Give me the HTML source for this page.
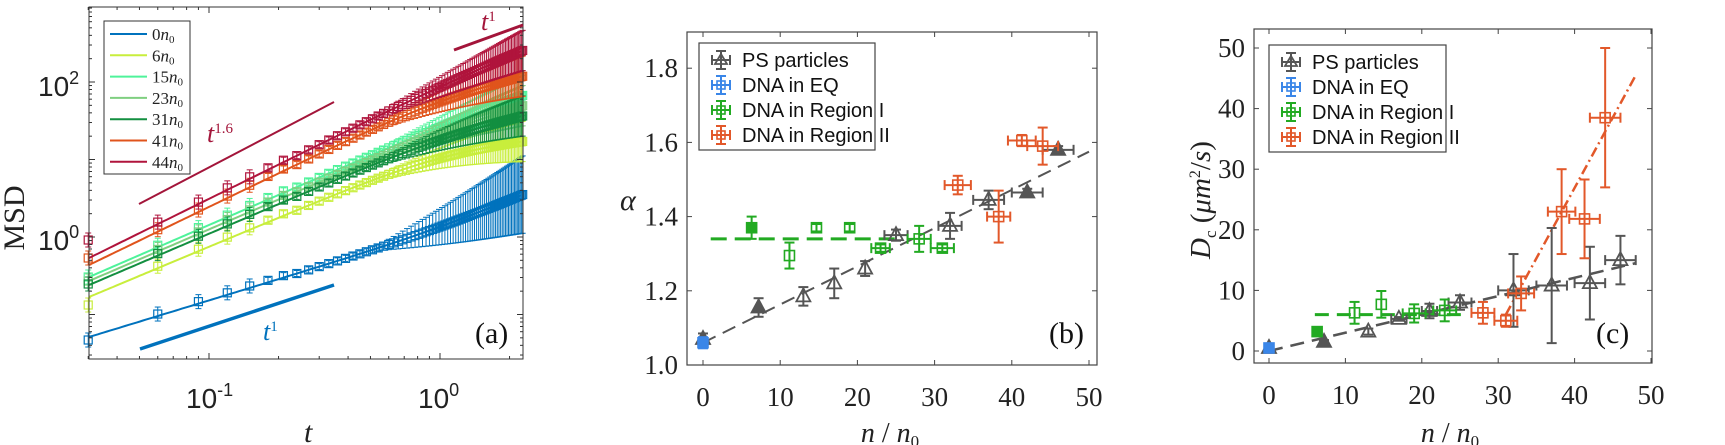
<!DOCTYPE html>
<html><head><meta charset="utf-8">
<style>
html,body{margin:0;padding:0;background:#fff;}
svg{display:block;}
.ser{font-family:"Liberation Serif",serif;}
.san{font-family:"Liberation Sans",sans-serif;}
</style></head>
<body>
<svg id="s" width="1725" height="445" xmlns="http://www.w3.org/2000/svg"></svg>
<script>
const S=document.getElementById('s');let h='';
function L(x1,y1,x2,y2,c,w,d){h+=`<line x1="${x1}" y1="${y1}" x2="${x2}" y2="${y2}" stroke="${c}" stroke-width="${w||1}" ${d?`stroke-dasharray="${d}"`:''}/>`;}
function T(x,y,t,sz,cls,extra){h+=`<text x="${x}" y="${y}" font-size="${sz}" class="${cls}" ${extra||''}>${t}</text>`;}
function R(x,y,w,hh,c,f,sw){h+=`<rect x="${x}" y="${y}" width="${w}" height="${hh}" fill="${f||'none'}" stroke="${c}" stroke-width="${sw||1}"/>`;}
// ===== Panel a =====
const X=t=>440+231*Math.log10(t);
const ser=[
 ['#0072BD',337,230,195,0.6],
 ['#c8ee3c',297,150,140,0.5],
 ['#4ef39a',277,125,95,0.5],
 ['#7fcf80',281,130,105,0.5],
 ['#138f40',285,135,115,0.5],
 ['#e0541c',265,95,75,0.4],
 ['#b0143c',258,85,50,0.4]];
const sq={'#0072BD':340,'#c8ee3c':305,'#4ef39a':277,'#7fcf80':281,'#138f40':284,'#e0541c':258,'#b0143c':240};
function yAt(s,x){
 const s1=(s[2]-s[1])/(440-89), s2=(s[3]-s[2])/(523-440);
 // smooth blend of two slopes around x=440
 const w=40;
 const f=u=>w*Math.log(1+Math.exp(u/w));
 const base=s[1]+s1*(x-89);
 return base+(s2-s1)*(f(x-440)-f(89-440)) - (s2-s1)*(f(0)-f(89-440))*0 ;
}
for(const s of ser){
 let pts=[];for(let x=89;x<=523;x+=3)pts.push(x+','+yAt(s,x).toFixed(1));
 h+=`<polyline points="${pts.join(' ')}" fill="none" stroke="${s[0]}" stroke-width="2"/>`;
 for(let k=1;k<=77;k++){const t=k*0.03,x=X(t);if(x>523)break;
  let y=k==1?sq[s[0]]:yAt(s,x)+(k<8?-2:0);
  let e=3+(x>380?(x-380)*(s[0]=='#0072BD'?0.25:0.12):0)+(k<6?4:0);
  L(x,y-e,x,y+e,s[0],1);L(x-3,y-e,x+3,y-e,s[0],1);L(x-3,y+e,x+3,y+e,s[0],1);
  R(x-4,y-4,8,8,s[0],'none',1.2);
 }
}
R(89,7,434,352,'#333','none',1);
[0.03,0.04,0.05,0.06,0.07,0.08,0.09,0.1,0.2,0.3,0.4,0.5,0.6,0.7,0.8,0.9,1,2].forEach(t=>{const x=X(t),l=(t==0.1||t==1)?6:3;L(x,359,x,359-l,'#333');L(x,7,x,7+l,'#333');});
for(let d=-3;d<=3;d++)for(let m=1;m<10;m++){const y=237-77.5*(d+Math.log10(m));if(y<7||y>359)continue;const l=m==1?6:3;L(89,y,89+l,y,'#333');L(523,y,523-l,y,'#333');}
L(139,204,334,102,'#a3153a',2);L(140,349,334,285,'#0072BD',3.5);L(454,50,523,25,'#a3153a',3);
T(207,142,'<tspan font-style="italic">t</tspan><tspan dy="-9" font-size="15">1.6</tspan>',26,'ser','fill="#a3153a"');
T(263,340,'<tspan font-style="italic">t</tspan><tspan dy="-9" font-size="15">1</tspan>',26,'ser','fill="#0072BD"');
T(481,30,'<tspan font-style="italic">t</tspan><tspan dy="-9" font-size="15">1</tspan>',26,'ser','fill="#a3153a"');
T(38,96,'10<tspan dy="-12" font-size="18">2</tspan>',28,'san','fill="#222"');
T(38,250,'10<tspan dy="-12" font-size="18">0</tspan>',28,'san','fill="#222"');
T(186,408,'10<tspan dy="-12" font-size="18">-1</tspan>',28,'san','fill="#222"');
T(418,408,'10<tspan dy="-12" font-size="18">0</tspan>',28,'san','fill="#222"');
T(304,442,'t',30,'ser','font-style="italic" fill="#222"');
T(24,218,'MSD',30,'ser','fill="#222" text-anchor="middle" transform="rotate(-90 24 218)"');
T(475,343,'(a)',30,'ser','fill="#111"');
R(104,21,86,153,'#333','#fff',1);
[['#0072BD','0'],['#c8ee3c','6'],['#4ef39a','15'],['#7fcf80','23'],['#138f40','31'],['#e0541c','41'],['#b0143c','44']].forEach((e,i)=>{const y=34+i*21.3;L(110,y,147,y,e[0],2);T(152,y+6,e[1]+'<tspan font-style="italic">n</tspan><tspan font-size="11" dy="3">0</tspan>',17,'ser','fill="#222"');});
// ===== generic scatter panel =====
function panel(o){
 const px=n=>o.x0+o.sx*n, py=v=>o.y0-o.sy*(v-o.vmin);
 R(o.L,o.T,o.R-o.L,o.B-o.T,'#444','none',1.2);
 for(let n=0;n<=50;n+=10){const x=px(n);L(x,o.B,x,o.B-5,'#444');L(x,o.T,x,o.T+5,'#444');T(x,o.B+41,n,27,'ser','text-anchor="middle" fill="#222"');}
 o.yt.forEach(v=>{const y=py(v);L(o.L,y,o.L+5,y,'#444');L(o.R,y,o.R-5,y,'#444');T(o.L-9,y+9,o.fmt(v),27,'ser','text-anchor="end" fill="#222"');});
 o.lines.forEach(l=>L(px(l[0]),py(l[1]),px(l[2]),py(l[3]),l[4],l[5],l[6]));
 o.pts.forEach(p=>{const [n,v,ex,ey,c,shape,fill]=p;const x=px(n),y=py(v);
  if(ex){L(x-ex*o.sx,y,x+ex*o.sx,y,c,2);L(x-ex*o.sx,y-5,x-ex*o.sx,y+5,c,2);L(x+ex*o.sx,y-5,x+ex*o.sx,y+5,c,2);}
  const e=ey*o.sy;L(x,y-e,x,y+e,c,2);L(x-5,y-e,x+5,y-e,c,2);L(x-5,y+e,x+5,y+e,c,2);
  if(shape=='t')h+=`<polygon points="${x},${y-8} ${x-7},${y+5} ${x+7},${y+5}" fill="${fill?c:'none'}" stroke="${c}" stroke-width="1.8"/>`;
  else R(x-5,y-5,10,10,c,fill?c:'none',1.6);
 });
 const lg=o.lg;R(lg[0],lg[1],lg[2]-lg[0],lg[3]-lg[1],'#444','#fff',1.2);
 [['#555','PS particles','t'],['#3a86e8','DNA in EQ','s'],['#22aa22','DNA in Region I','s'],['#e2582a','DNA in Region II','s']].forEach((e,i)=>{const y=lg[1]+17+i*25,x=lg[0]+22;
  L(x,y-9,x,y+9,e[0],2);L(x-5,y-9,x+5,y-9,e[0],2);L(x-5,y+9,x+5,y+9,e[0],2);L(x-9,y,x+9,y,e[0],2);L(x-9,y-5,x-9,y+5,e[0],2);L(x+9,y-5,x+9,y+5,e[0],2);
  if(e[2]=='t')h+=`<polygon points="${x},${y-6} ${x-6},${y+4} ${x+6},${y+4}" fill="none" stroke="${e[0]}" stroke-width="1.8"/>`;else R(x-4,y-4,8,8,e[0],'none',1.6);
  T(lg[0]+43,y+7,e[1],20,'san','fill="#111"');});
}
const G='#555',B='#3a86e8',Gr='#22aa22',O='#e2582a';
panel({L:687,T:32,R:1097,B:365,x0:703,sx:7.72,y0:365,sy:371,vmin:1.0,yt:[1.0,1.2,1.4,1.6,1.8],fmt:v=>v.toFixed(1),
 lines:[[0,1.06,50,1.575,G,2,'14 8'],[1,1.34,25,1.34,Gr,3,'16 8']],
 pts:[[0,1.07,0,0.015,G,'t',1],[7.2,1.155,0,0.025,G,'t',1],[13,1.185,0,0.025,G,'t',0],[17,1.22,0,0.04,G,'t',0],[21,1.26,0,0.02,G,'t',0],[25,1.35,1.5,0.015,G,'t',0],[32,1.375,1.5,0.035,G,'t',0],[37,1.445,2,0.025,G,'t',0],[42,1.465,2,0.01,G,'t',1],[46,1.58,2,0.01,G,'t',1],
 [0,1.06,0,0.015,B,'s',1],
 [6.3,1.37,0,0.03,Gr,'s',1],[11.2,1.295,0,0.035,Gr,'s',0],[14.7,1.37,0,0.01,Gr,'s',0],[19,1.37,0,0.01,Gr,'s',0],[23,1.315,1.2,0.01,Gr,'s',0],[28,1.34,1.5,0.035,Gr,'s',0],[31,1.315,1.5,0.01,Gr,'s',0],
 [33,1.485,1.7,0.025,O,'s',0],[38.3,1.40,1.5,0.07,O,'s',0],[41.3,1.605,1.8,0.015,O,'s',0],[44,1.59,2,0.05,O,'s',0]],
 lg:[699,43,875,150]});
T(620,210,'α',30,'ser','font-style="italic" fill="#222"');
T(890,442,'<tspan font-style="italic">n</tspan> / <tspan font-style="italic">n</tspan><tspan font-size="17" dy="5">0</tspan>',28,'ser','text-anchor="middle" fill="#222"');
T(1049,343,'(b)',30,'ser','fill="#111"');
panel({L:1254,T:29,R:1652,B:363,x0:1269,sx:7.64,y0:351,sy:6.06,vmin:0,yt:[0,10,20,30,40,50],fmt:v=>v,
 lines:[[0,0,48,14.5,G,2.5,'14 8'],[6,6,26,6,Gr,3,'14 8'],[31,6,48,45.5,O,2.5,'10 4 2 4']],
 pts:[[0,0.5,0,0.7,G,'t',1],[7.2,1.5,0,0.3,G,'t',1],[13,3.2,0,0.5,G,'t',0],[17,5.3,1,0.3,G,'t',0],[21,6.6,1,1.2,G,'t',0],[25,8,1.5,1.2,G,'t',0],[32,10,2,6,G,'t',0],[37,10.8,2,9.5,G,'t',0],[42,11.2,2,6,G,'t',0],[46,15,2,4,G,'t',0],
 [0,0.5,0,0.6,B,'s',1],
 [6.3,3.2,0,0.5,Gr,'s',1],[11.2,6.3,0,1.8,Gr,'s',0],[14.7,7.7,0,2.2,Gr,'s',0],[19,6.2,1.5,1.5,Gr,'s',0],[23,6.7,1.5,1.8,Gr,'s',0],
 [28,6.3,1.5,1.8,O,'s',0],[31,5,1.5,1,O,'s',0],[33,9.5,1.7,2.8,O,'s',0],[38.3,23,1.8,7,O,'s',0],[41.3,21.8,2,6.5,O,'s',0],[44,38.5,2,11.5,O,'s',0]],
 lg:[1269,45,1446,152]});
T(1210,200,'<tspan font-style="italic">D</tspan><tspan font-size="17" dy="6">c</tspan><tspan dy="-6"> (</tspan><tspan font-style="italic">μm</tspan><tspan font-size="16" dy="-10">2</tspan><tspan dy="10">/</tspan><tspan font-style="italic">s</tspan>)',29,'ser','text-anchor="middle" fill="#222" transform="rotate(-90 1210 200)"');
T(1450,442,'<tspan font-style="italic">n</tspan> / <tspan font-style="italic">n</tspan><tspan font-size="17" dy="5">0</tspan>',28,'ser','text-anchor="middle" fill="#222"');
T(1596,343,'(c)',30,'ser','fill="#111"');
S.innerHTML=h;
</script>
</body></html>
